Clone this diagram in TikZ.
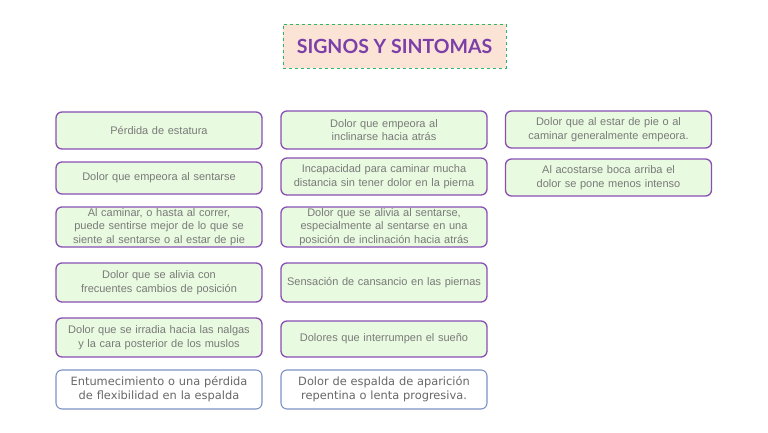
\documentclass[tikz,border=0pt]{standalone}
\usepackage{fontspec}
\setmainfont{Liberation Sans}
\newfontfamily\dejavu{DejaVu Sans}
\newfontfamily\lato{Lato}
\hyphenpenalty=10000
\exhyphenpenalty=10000
\definecolor{pur}{HTML}{8A4FB3}
\definecolor{grn}{HTML}{E8FADF}
\definecolor{txt}{HTML}{7A7A7A}
\definecolor{blu}{HTML}{7C93C4}
\definecolor{ttl}{HTML}{7B3FA8}
\definecolor{tfill}{HTML}{FBE3D6}
\definecolor{tgrn}{HTML}{2DB866}
\begin{document}
\begin{tikzpicture}[x=1pt,y=-1pt,
  gbox/.style={draw=pur,line width=1.3pt,fill=grn,rounded corners=6pt,minimum width=206pt,text width=196pt,align=center,inner sep=1pt,text=txt,font=\fontsize{11}{13.5}\selectfont},
  wbox/.style={draw=blu,line width=1.1pt,fill=white,rounded corners=6pt,minimum width=206pt,minimum height=39pt,text width=196pt,align=center,inner sep=1pt,text=txt!85!black,font=\dejavu\fontsize{11.4}{14}\selectfont}]
\useasboundingbox (0,0) rectangle (768,433);
\node[draw=tgrn,dashed,fill=tfill,minimum width=223pt,minimum height=44pt,text=ttl,font=\lato\bfseries\fontsize{19.5}{22}\selectfont] (t) at (394.5,46) {SIGNOS Y SINTOMAS};
\node[gbox,minimum height=37pt] (a1) at (159,130.5) {Pérdida de estatura};
\node[gbox,minimum height=32pt] (a2) at (159,178) {Dolor que empeora al sentarse};
\node[gbox,minimum height=40pt] (a3) at (159,227) {Al caminar, o hasta al correr, puede sentirse mejor de lo que se siente al sentarse o al estar de pie};
\node[gbox,minimum height=39pt] (a4) at (159,282.5) {Dolor que se alivia con frecuentes cambios de posición};
\node[gbox,minimum height=39pt] (a5) at (159,337.5) {Dolor que se irradia hacia las nalgas y la cara posterior de los muslos};
\node[wbox] (a6) at (159,389.5) {Entumecimiento o una pérdida de flexibilidad en la espalda};
\node[gbox,minimum height=38pt] (b1) at (384,130) {Dolor que empeora al inclinarse hacia atrás};
\node[gbox,minimum height=37pt] (b2) at (384,176.5) {Incapacidad para caminar mucha distancia sin tener dolor en la pierna};
\node[gbox,minimum height=40pt] (b3) at (384,227) {Dolor que se alivia al sentarse, especialmente al sentarse en una posición de inclinación hacia atrás};
\node[gbox,minimum height=39pt] (b4) at (384,282.5) {Sensación de cansancio en las piernas};
\node[gbox,minimum height=36pt] (b5) at (384,339) {Dolores que interrumpen el sueño};
\node[wbox] (b6) at (384,389.5) {Dolor de espalda de aparición repentina o lenta progresiva.};
\node[gbox,minimum height=37pt] (c1) at (608.5,129.5) {Dolor que al estar de pie o al caminar generalmente empeora.};
\node[gbox,minimum height=37pt] (c2) at (608.5,177.5) {Al acostarse boca arriba el dolor se pone menos intenso};
\end{tikzpicture}
\end{document}
